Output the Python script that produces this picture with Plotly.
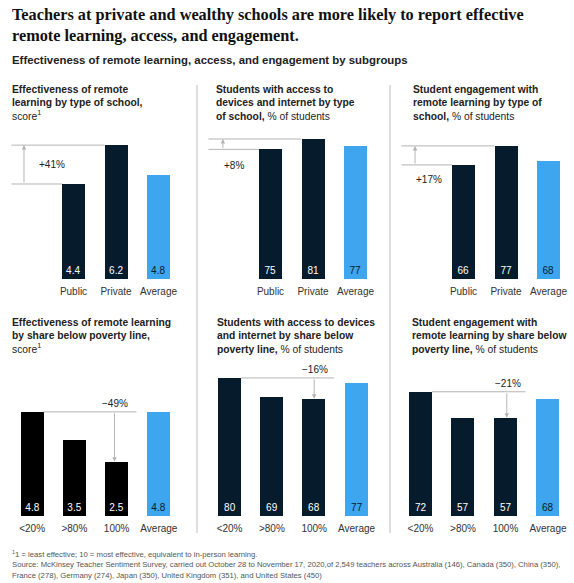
import plotly.graph_objects as go

# data
school_types = ["Public", "Private", "Average"]
effect_school = [4.4, 6.2, 4.8]
access_school = [75, 81, 77]
engage_school = [66, 77, 68]

poverty_groups = ["&lt;20%", "&gt;80%", "100%", "Average"]
effect_poverty = [4.8, 3.5, 2.5, 4.8]
access_poverty = [80, 69, 68, 77]
engage_poverty = [72, 57, 57, 68]

top_changes = ["+41%", "+8%", "+17%"]
bottom_changes = ["\u221249%", "\u221216%", "\u221221%"]

NAVY = "#061c2c"
BLACK = "#000000"
BLUE = "#3ea5ef"
GREY = "#b4b4b4"
FONT = "Liberation Sans"
W, H = 574, 583


def px(x):
    return x / W


def py(y):
    return 1 - y / H


fig = go.Figure()

# panel geometry in pixels: (x0, x1, y_top, y_bottom, x range, y range)
panels = [
    dict(vals=effect_school, cats=school_types, dom=(9.75, 179.75), ydom=(130, 279), xr=[-1.5, 2.5], yr=[0, 6.9], bars=[NAVY, NAVY, BLUE]),
    dict(vals=access_school, cats=school_types, dom=(206.75, 376.75), ydom=(130, 279), xr=[-1.5, 2.5], yr=[0, 86.2], bars=[NAVY, NAVY, BLUE]),
    dict(vals=engage_school, cats=school_types, dom=(399.75, 569.75), ydom=(130, 279), xr=[-1.5, 2.5], yr=[0, 86.2], bars=[NAVY, NAVY, BLUE]),
    dict(vals=effect_poverty, cats=poverty_groups, dom=(11, 180), ydom=(360, 516), xr=[-0.5, 3.5], yr=[0, 7.19], bars=[BLACK, BLACK, BLACK, BLUE]),
    dict(vals=access_poverty, cats=poverty_groups, dom=(208.4, 377.7), ydom=(360, 516), xr=[-0.5, 3.5], yr=[0, 90.4], bars=[NAVY, NAVY, NAVY, BLUE]),
    dict(vals=engage_poverty, cats=poverty_groups, dom=(399.25, 569.25), ydom=(360, 516), xr=[-0.5, 3.5], yr=[0, 90.4], bars=[NAVY, NAVY, NAVY, BLUE]),
]

for i, p in enumerate(panels):
    n = i + 1
    xs = list(range(len(p["vals"])))
    txtcol = ["white"] * (len(xs) - 1) + [NAVY]
    fig.add_trace(go.Bar(
        x=xs, y=p["vals"], width=0.54,
        marker=dict(color=p["bars"], line=dict(width=0)),
        text=[f"{v:g}" for v in p["vals"]], textposition="inside",
        insidetextanchor="start", textangle=0,
        textfont=dict(family=FONT, size=10, color=txtcol),
        xaxis="x" + str(n), yaxis="y" + str(n), showlegend=False, hoverinfo="skip",
    ))
    key = "" if n == 1 else str(n)
    fig.update_layout(**{
        "xaxis" + key: dict(domain=[px(p["dom"][0]), px(p["dom"][1])], range=p["xr"],
                            anchor="y" + key if key else "y",
                            tickvals=xs, ticktext=p["cats"], showgrid=False, zeroline=False,
                            showline=False, ticks="outside", ticklen=3, tickcolor="white",
                            tickfont=dict(family=FONT, size=10, color="#333333")),
        "yaxis" + key: dict(domain=[py(p["ydom"][1]), py(p["ydom"][0])], range=p["yr"],
                            anchor="x" + key if key else "x",
                            showgrid=False, zeroline=False, showline=False, showticklabels=False),
    })

shapes = []
annos = []


def hline(n, x0, x1, y):
    shapes.append(dict(type="line", xref="x" + str(n), yref="y" + str(n), x0=x0, x1=x1, y0=y, y1=y,
                       line=dict(color=GREY, width=1)))


def arrow(n, x, y_from, y_to):
    annos.append(dict(xref="x" + str(n), yref="y" + str(n), axref="x" + str(n), ayref="y" + str(n),
                      x=x, y=y_to, ax=x, ay=y_from, text="", showarrow=True,
                      arrowhead=2, arrowsize=0.9, arrowwidth=1, arrowcolor=GREY))


# top row brackets: public vs private
top_sets = [effect_school, access_school, engage_school]
top_arrow_x = [-1.165, -1.12, -1.14]
for i, vals in enumerate(top_sets):
    n = i + 1
    hline(n, -1.46, 1 - 0.27, vals[1])
    hline(n, -1.46, -0.27, vals[0])
    arrow(n, top_arrow_x[i], vals[0], vals[1])
annos.append(dict(xref="x1", yref="y1", x=-0.86, y=(effect_school[0] + effect_school[1]) / 2,
                  text=top_changes[0], showarrow=False, xanchor="left", yanchor="middle",
                  font=dict(family=FONT, size=10, color="#222")))
annos.append(dict(xref="x2", yref="y2", x=-1.13, y=access_school[0], yshift=-16,
                  text=top_changes[1], showarrow=False, xanchor="left", yanchor="middle",
                  font=dict(family=FONT, size=10, color="#222")))
annos.append(dict(xref="x3", yref="y3", x=-1.16, y=engage_school[0], yshift=-15,
                  text=top_changes[2], showarrow=False, xanchor="left", yanchor="middle",
                  font=dict(family=FONT, size=10, color="#222")))

# bottom row brackets: <20% vs 100%
bot_sets = [effect_poverty, access_poverty, engage_poverty]
bot_arrow_x = [1.95, 2.0, 2.03]
for i, vals in enumerate(bot_sets):
    n = i + 4
    hline(n, 0.27, 2.47, vals[0])
    arrow(n, bot_arrow_x[i], vals[0], vals[2])
    annos.append(dict(xref="x" + str(n), yref="y" + str(n), x=bot_arrow_x[i] + 0.02, y=vals[0], yshift=8,
                      text=bottom_changes[i], showarrow=False, xanchor="center", yanchor="middle",
                      font=dict(family=FONT, size=10, color="#222")))

# separators between panels
for sx in [197, 390]:
    shapes.append(dict(type="line", xref="paper", yref="paper", x0=px(sx), x1=px(sx), y0=py(85), y1=py(533),
                       line=dict(color="#d4d4d4", width=1.5)))

# titles
annos.append(dict(xref="paper", yref="paper", x=px(10), y=py(3), xanchor="left", yanchor="top", align="left",
                  text="<b>Teachers at private and wealthy schools are more likely to report effective<br>"
                       "remote learning, access, and engagement.</b>",
                  showarrow=False, font=dict(family="Liberation Serif", size=16.3, color="#111")))
annos.append(dict(xref="paper", yref="paper", x=px(10), y=py(52), xanchor="left", yanchor="top", align="left",
                  text="<b>Effectiveness of remote learning, access, and engagement by subgroups</b>",
                  showarrow=False, font=dict(family=FONT, size=11.4, color="#222")))

panel_titles = [
    (10, 82, "<b>Effectiveness of remote<br>learning by type of school,</b><br>score<sup>1</sup>"),
    (214, 82, "<b>Students with access to<br>devices and internet by type<br>of school,</b> % of students"),
    (411, 82, "<b>Student engagement with<br>remote learning by type of<br>school,</b> % of students"),
    (10, 315, "<b>Effectiveness of remote learning<br>by share below poverty line,</b><br>score<sup>1</sup>"),
    (215, 315, "<b>Students with access to devices<br>and internet by share below<br>poverty line,</b> % of students"),
    (410, 315, "<b>Student engagement with<br>remote learning by share below<br>poverty line,</b> % of students"),
]
for x, y, t in panel_titles:
    annos.append(dict(xref="paper", yref="paper", x=px(x), y=py(y), xanchor="left", yanchor="top", align="left",
                      text=t, showarrow=False, font=dict(family=FONT, size=10.3, color="#222")))

foot = [
    "<sup>1</sup>1 = least effective; 10 = most effective, equivalent to in-person learning.",
    "Source: McKinsey Teacher Sentiment Survey, carried out October 28 to November 17, 2020,of 2,549 teachers across Australia (146), Canada (350), China (350),",
    "France (278), Germany (274), Japan (350), United Kingdom (351), and United States (450)",
]
for k, line in enumerate(foot):
    annos.append(dict(xref="paper", yref="paper", x=px(10), y=py(554 + k * 10.5), xanchor="left", yanchor="middle",
                      align="left", text=line, showarrow=False, font=dict(family=FONT, size=7.7, color="#555")))

fig.update_layout(width=W, height=H, margin=dict(l=0, r=0, t=0, b=0),
                  paper_bgcolor="white", plot_bgcolor="white", bargap=0,
                  shapes=shapes, annotations=annos)

fig.write_html("out.html", config={"displayModeBar": False},
               post_script="document.body.style.margin='0';document.body.style.overflow='hidden';")
